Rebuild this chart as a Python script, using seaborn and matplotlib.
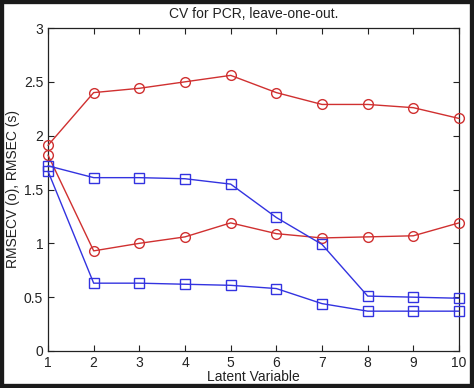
import numpy as np
import pandas as pd
import matplotlib
matplotlib.use("Agg")
import matplotlib.pyplot as plt
import seaborn as sns

# 数据
latent = [1, 2, 3, 4, 5, 6, 7, 8, 9, 10]
rmsecv_a = [1.91, 2.40, 2.44, 2.50, 2.56, 2.40, 2.29, 2.29, 2.26, 2.16]
rmsecv_b = [1.82, 0.93, 1.00, 1.06, 1.19, 1.09, 1.05, 1.06, 1.07, 1.19]
rmsec_a = [1.72, 1.61, 1.61, 1.60, 1.55, 1.24, 0.99, 0.51, 0.50, 0.49]
rmsec_b = [1.67, 0.63, 0.63, 0.62, 0.61, 0.58, 0.44, 0.37, 0.37, 0.37]

sns.set_style("ticks")
plt.rcParams["font.family"] = ["Liberation Sans", "DejaVu Sans"]

fig = plt.figure(figsize=(4.74, 3.88), dpi=100)
fig.patch.set_facecolor("white")
ax = fig.add_axes([48 / 474, 37 / 388, 411 / 474, 323 / 388])

red = "#d03030"
blue = "#3333e0"
for vals, col, mk in [(rmsecv_a, red, "o"), (rmsecv_b, red, "o"),
                      (rmsec_a, blue, "s"), (rmsec_b, blue, "s")]:
    df = pd.DataFrame({"x": latent, "y": vals})
    sns.lineplot(data=df, x="x", y="y", ax=ax, color=col, marker=mk,
                 markersize=7, markerfacecolor="none", markeredgecolor=col,
                 markeredgewidth=1.0, linewidth=1.0, clip_on=False, zorder=3)

ax.set_xlim(1, 10)
ax.set_ylim(0, 3)
ax.set_xticks(latent)
ax.set_yticks([0, 0.5, 1, 1.5, 2, 2.5, 3])
ax.set_yticklabels(["0", "0.5", "1", "1.5", "2", "2.5", "3"])
ax.tick_params(direction="in", top=True, right=True, length=4, width=0.8,
               labelsize=10, colors="#222222")
for s in ax.spines.values():
    s.set_visible(True)
    s.set_linewidth(0.9)
    s.set_color("#222222")

ax.set_title("CV for PCR, leave-one-out.", fontsize=10, pad=7, color="#222222")
ax.set_xlabel("Latent Variable", fontsize=10, labelpad=0, color="#222222")
ax.set_ylabel("RMSECV (o), RMSEC (s)", fontsize=10, labelpad=3, color="#222222")

# 外框
fig.add_artist(plt.Rectangle((0, 0), 1, 1, transform=fig.transFigure,
                             fill=False, edgecolor="#1a1a1a", linewidth=6))

fig.savefig("out.png", dpi=100)
